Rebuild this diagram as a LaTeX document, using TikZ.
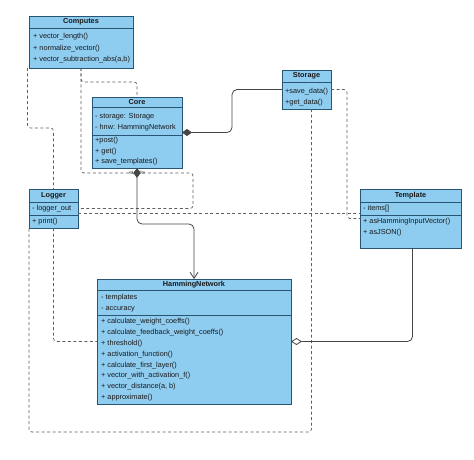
\documentclass[tikz,border=0pt]{standalone}
\usepackage{fontspec}
\setmainfont{Liberation Sans}
\usetikzlibrary{arrows.meta,calc}
\definecolor{boxfill}{RGB}{142,204,240}
\definecolor{boxline}{RGB}{40,85,115}
\definecolor{dashcol}{RGB}{95,95,95}
\definecolor{solidcol}{RGB}{70,70,70}
\begin{document}
\begin{tikzpicture}[x=1pt,y=-1pt,
 cls/.style={draw=boxline, fill=boxfill, line width=0.9pt, inner sep=0pt, outer sep=0pt},
 ttl/.style={font=\fontsize{7.3}{8}\selectfont\bfseries, inner sep=0pt, text=black!90},
 itm/.style={font=\fontsize{7.3}{8}\selectfont, inner sep=0pt, anchor=west, text=black!90, text height=5.3pt, text depth=1.6pt},
 sep/.style={draw=boxline, line width=0.9pt},
 dep/.style={draw=dashcol, dash pattern=on 3pt off 2.5pt, line width=0.7pt, rounded corners=3pt},
 rel/.style={draw=solidcol, line width=0.8pt, rounded corners=5pt},
 fdiam/.style={{Diamond[length=10pt,width=7pt]}-},
]
\fill[white] (0,0) rectangle (474,460);
\useasboundingbox (0,0) rectangle (474,460);

% ---------- Computes ----------
\node[cls, minimum width=104pt, minimum height=52pt] (Computes) at (81,42) {};
\draw[sep] (Computes.west |- 0,28) -- (Computes.east |- 0,28);
\node[ttl] (ComputesT) at (81,22) {Computes};
\node[itm] (Computes1) at (33,37) {+ vector\_length()};
\node[itm] (Computes2) at (33,48.5) {+ normalize\_vector()};
\node[itm] (Computes3) at (33,60) {+ vector\_subtraction\_abs(a,b)};

% ---------- Core ----------
\node[cls, minimum width=90pt, minimum height=71pt] (Core) at (137,132.5) {};
\draw[sep] (Core.west |- 0,107) -- (Core.east |- 0,107);
\draw[sep] (Core.west |- 0,135) -- (Core.east |- 0,135);
\node[ttl] (CoreT) at (137,102) {Core};
\node[itm] (Core1) at (95,117) {- storage: Storage};
\node[itm] (Core2) at (95,128) {- hnw: HammingNetwork};
\node[itm] (Core3) at (95,141) {+post()};
\node[itm] (Core4) at (95,151.5) {+ get()};
\node[itm] (Core5) at (95,162) {+ save\_templates()};

% ---------- Storage ----------
\node[cls, minimum width=49pt, minimum height=39pt] (Storage) at (306.5,89.5) {};
\draw[sep] (Storage.west |- 0,82) -- (Storage.east |- 0,82);
\node[ttl] (StorageT) at (306.5,76) {Storage};
\node[itm] (Storage1) at (285,92) {+save\_data()};
\node[itm] (Storage2) at (285,102.5) {+get\_data()};

% ---------- Template ----------
\node[cls, minimum width=101pt, minimum height=59pt] (Template) at (410.5,218.5) {};
\draw[sep] (Template.west |- 0,202) -- (Template.east |- 0,202);
\draw[sep] (Template.west |- 0,215) -- (Template.east |- 0,215);
\node[ttl] (TemplateT) at (410.5,195.5) {Template};
\node[itm] (Template1) at (363,209) {- items[]};
\node[itm] (Template2) at (363,222) {+ asHammingInputVector()};
\node[itm] (Template3) at (363,233) {+ asJSON()};

% ---------- Logger ----------
\node[cls, minimum width=49pt, minimum height=39pt] (Logger) at (53.5,208.5) {};
\draw[sep] (Logger.west |- 0,202) -- (Logger.east |- 0,202);
\draw[sep] (Logger.west |- 0,215) -- (Logger.east |- 0,215);
\node[ttl] (LoggerT) at (53.5,195.5) {Logger};
\node[itm] (Logger1) at (32,209) {- logger\_out};
\node[itm] (Logger2) at (32,222) {+ print()};

% ---------- HammingNetwork ----------
\node[cls, minimum width=194pt, minimum height=125pt] (HN) at (194,341.5) {};
\draw[sep] (HN.west |- 0,290) -- (HN.east |- 0,290);
\draw[sep] (HN.west |- 0,315) -- (HN.east |- 0,315);
\node[ttl] (HNT) at (194,284.5) {HammingNetwork};
\node[itm] (HN1) at (101,298) {- templates};
\node[itm] (HN2) at (101,308.5) {- accuracy};
\node[itm] (HN3) at (101,322) {+ calculate\_weight\_coeffs()};
\node[itm] (HN4) at (101,332.8) {+ calculate\_feedback\_weight\_coeffs()};
\node[itm] (HN5) at (101,343.6) {+ threshold()};
\node[itm] (HN6) at (101,354.4) {+ activation\_function()};
\node[itm] (HN7) at (101,365.2) {+ calculate\_first\_layer()};
\node[itm] (HN8) at (101,376) {+ vector\_with\_activation\_f()};
\node[itm] (HN9) at (101,386.8) {+ vector\_distance(a, b)};
\node[itm] (HN10) at (101,397.6) {+ approximate()};

% ---------- dashed dependencies ----------
\coordinate (cl) at (193,173);
\draw[dep] (Computes.south) |- ([yshift=15pt]Core.north) -- (Core.north);
\draw[dep] (Computes.south) |- (cl) |- (Logger.east);
\draw[dep] ([xshift=-1.5pt]Computes.south west) |- ([yshift=61pt]Logger.north) -- (Logger.north);
\draw[dep] (Logger.south) |- (HN.west);
\draw[dep] ([yshift=-4.5pt]Logger.east) -- ([yshift=-4.5pt]Logger.east -| Template.west);
\draw[dep] (Storage.east) -- ++(16,0) |- (Template.west);
\draw[dep] ([xshift=5pt]Storage.south) -- ++(0,323) -| (Logger.south west);

% ---------- solid relations ----------
\node[font=\fontsize{6}{6}\selectfont, inner sep=0pt, text=black!80] (uselbl) at (137,173) {\textless\textless use\textgreater\textgreater};
\draw[rel, fdiam] (Core.east) -- ++(50,0) |- (Storage.west);
\draw[rel, {Diamond[length=10pt,width=7pt]}-{Straight Barb[length=6pt,width=8pt]}] (Core.south) |- ([yshift=55pt]HN.north) -- (HN.north);
\draw[rel, {Diamond[open,fill=white,length=11pt,width=7pt]}-] (HN.east) -| ([xshift=2pt]Template.south);
\end{tikzpicture}
\end{document}
